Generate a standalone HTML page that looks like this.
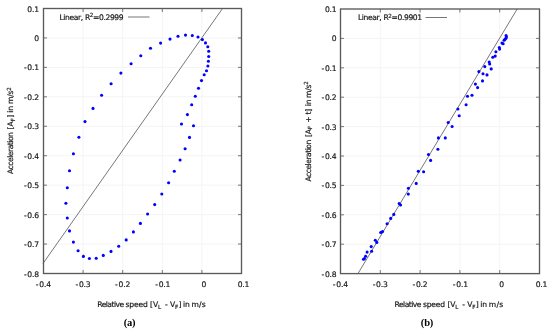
<!DOCTYPE html>
<html><head><meta charset="utf-8"><style>
html,body{margin:0;padding:0;background:#fff;}
svg{display:block;}
text{font-family:"DejaVu Sans","Liberation Sans",sans-serif;font-size:7.6px;fill:#1a1a1a;stroke:#1a1a1a;stroke-width:0.2px;letter-spacing:-0.18px;}
text.cap{font-family:"Liberation Serif",serif;font-weight:bold;font-size:10.5px;fill:#000;stroke:none;}
.grid{stroke:#f4f4f4;stroke-width:1;fill:none;}
.tick{stroke:#777;stroke-width:1;fill:none;}
.reg{stroke:#777;stroke-width:1;}
.frame{fill:none;stroke:#5a5a5a;stroke-width:1.35;}
.pts circle{fill:#0000ff;}
</style></head><body>
<svg width="550" height="332" viewBox="0 0 550 332">
<path d="M83.1 8.5V273.5M122.7 8.5V273.5M162.3 8.5V273.5M201.9 8.5V273.5M43.5 244.06H241.5M43.5 214.61H241.5M43.5 185.17H241.5M43.5 155.72H241.5M43.5 126.28H241.5M43.5 96.83H241.5M43.5 67.39H241.5M43.5 37.94H241.5" class="grid"/>
<path d="M83.1 273.5v-3.5M83.1 8.5v3.5M122.7 273.5v-3.5M122.7 8.5v3.5M162.3 273.5v-3.5M162.3 8.5v3.5M201.9 273.5v-3.5M201.9 8.5v3.5M43.5 244.06h3.5M241.5 244.06h-3.5M43.5 214.61h3.5M241.5 214.61h-3.5M43.5 185.17h3.5M241.5 185.17h-3.5M43.5 155.72h3.5M241.5 155.72h-3.5M43.5 126.28h3.5M241.5 126.28h-3.5M43.5 96.83h3.5M241.5 96.83h-3.5M43.5 67.39h3.5M241.5 67.39h-3.5M43.5 37.94h3.5M241.5 37.94h-3.5" class="tick"/>
<line x1="43" y1="263.5" x2="222.5" y2="8.5" class="reg"/>
<rect x="43.5" y="8.5" width="198.0" height="265.0" class="frame"/>
<g class="pts"><circle cx="101.6" cy="95.3" r="1.55"/><circle cx="111.1" cy="83.7" r="1.55"/><circle cx="120.9" cy="73.1" r="1.55"/><circle cx="131.1" cy="63.7" r="1.55"/><circle cx="140.8" cy="55.7" r="1.55"/><circle cx="150.5" cy="48.3" r="1.55"/><circle cx="160.6" cy="43.1" r="1.55"/><circle cx="170" cy="39.1" r="1.55"/><circle cx="178" cy="36.3" r="1.55"/><circle cx="185.5" cy="35.1" r="1.55"/><circle cx="192.3" cy="35.5" r="1.55"/><circle cx="198" cy="37" r="1.55"/><circle cx="202.4" cy="39.6" r="1.55"/><circle cx="205.5" cy="42.9" r="1.55"/><circle cx="207.8" cy="46.8" r="1.55"/><circle cx="208.7" cy="51.2" r="1.55"/><circle cx="208.7" cy="56.5" r="1.55"/><circle cx="208.4" cy="61.3" r="1.55"/><circle cx="207.9" cy="66" r="1.55"/><circle cx="206.5" cy="70.8" r="1.55"/><circle cx="204.2" cy="74.8" r="1.55"/><circle cx="201.5" cy="80.6" r="1.55"/><circle cx="198.5" cy="88.2" r="1.55"/><circle cx="195.3" cy="96.2" r="1.55"/><circle cx="191.7" cy="104.7" r="1.55"/><circle cx="187.4" cy="114.6" r="1.55"/><circle cx="181.5" cy="124" r="1.55"/><circle cx="193.5" cy="125.8" r="1.55"/><circle cx="189.5" cy="137.4" r="1.55"/><circle cx="185.1" cy="148.8" r="1.55"/><circle cx="180.1" cy="160" r="1.55"/><circle cx="174.3" cy="171.3" r="1.55"/><circle cx="168.6" cy="182.8" r="1.55"/><circle cx="161.8" cy="194" r="1.55"/><circle cx="154.7" cy="204.6" r="1.55"/><circle cx="147.6" cy="214" r="1.55"/><circle cx="140.4" cy="223.4" r="1.55"/><circle cx="133.4" cy="231.9" r="1.55"/><circle cx="126.2" cy="239.9" r="1.55"/><circle cx="118.7" cy="246.2" r="1.55"/><circle cx="111" cy="251.4" r="1.55"/><circle cx="103.3" cy="255.4" r="1.55"/><circle cx="96.2" cy="258.2" r="1.55"/><circle cx="89.4" cy="258.5" r="1.55"/><circle cx="83.4" cy="256.4" r="1.55"/><circle cx="78.1" cy="250.7" r="1.55"/><circle cx="73.4" cy="242.1" r="1.55"/><circle cx="69.5" cy="230.9" r="1.55"/><circle cx="67.3" cy="218" r="1.55"/><circle cx="65.9" cy="203.3" r="1.55"/><circle cx="67.3" cy="187.8" r="1.55"/><circle cx="69.5" cy="170.8" r="1.55"/><circle cx="73.4" cy="153.8" r="1.55"/><circle cx="78.9" cy="137.3" r="1.55"/><circle cx="85" cy="121.6" r="1.55"/><circle cx="93" cy="108.4" r="1.55"/></g>
<text x="38.9" y="276.5" text-anchor="end"><tspan style="letter-spacing:0.7px">-</tspan>0.8</text>
<text x="38.9" y="247.06" text-anchor="end"><tspan style="letter-spacing:0.7px">-</tspan>0.7</text>
<text x="38.9" y="217.61" text-anchor="end"><tspan style="letter-spacing:0.7px">-</tspan>0.6</text>
<text x="38.9" y="188.17" text-anchor="end"><tspan style="letter-spacing:0.7px">-</tspan>0.5</text>
<text x="38.9" y="158.72" text-anchor="end"><tspan style="letter-spacing:0.7px">-</tspan>0.4</text>
<text x="38.9" y="129.28" text-anchor="end"><tspan style="letter-spacing:0.7px">-</tspan>0.3</text>
<text x="38.9" y="99.83" text-anchor="end"><tspan style="letter-spacing:0.7px">-</tspan>0.2</text>
<text x="38.9" y="70.39" text-anchor="end"><tspan style="letter-spacing:0.7px">-</tspan>0.1</text>
<text x="38.9" y="40.94" text-anchor="end">0</text>
<text x="38.9" y="11.5" text-anchor="end">0.1</text>
<text x="43.35" y="286.9" text-anchor="middle"><tspan style="letter-spacing:0.7px">-</tspan>0.4</text>
<text x="82.95" y="286.9" text-anchor="middle"><tspan style="letter-spacing:0.7px">-</tspan>0.3</text>
<text x="122.55" y="286.9" text-anchor="middle"><tspan style="letter-spacing:0.7px">-</tspan>0.2</text>
<text x="162.75" y="286.9" text-anchor="middle"><tspan style="letter-spacing:0.7px">-</tspan>0.1</text>
<text x="203.9" y="286.9" text-anchor="middle">0</text>
<text x="243.5" y="286.9" text-anchor="middle">0.1</text>
<text x="59.5" y="19.7" style="letter-spacing:-0.38px">Linear, R<tspan font-size="5.6" dy="-2.4">2</tspan><tspan dy="2.4">=0.2999</tspan></text>
<line x1="128" y1="17" x2="149.5" y2="17" class="reg"/>
<text transform="translate(13 0) rotate(-90)"><tspan x="-174" style="letter-spacing:-0.48px">Acceleration </tspan><tspan x="-129.4">[A</tspan><tspan font-size="5.6" dy="1.5">F</tspan><tspan dy="-1.5" x="-117.8">] </tspan><tspan x="-112.8">in </tspan><tspan x="-104">m/s</tspan><tspan font-size="5.6" dy="-2.4">2</tspan></text>
<text x="97.3" y="307"><tspan style="letter-spacing:-0.55px">Relative </tspan><tspan x="125.6">speed </tspan><tspan x="150.1">[V</tspan><tspan font-size="5.6" dy="1.5">L</tspan><tspan dy="-1.5" x="164.9">- </tspan><tspan x="169.9">V</tspan><tspan font-size="5.6" dy="1.5">F</tspan><tspan dy="-1.5" x="178.5">] </tspan><tspan x="183">in </tspan><tspan x="191.5" style="letter-spacing:0.2px">m/s</tspan></text>
<text x="129.5" y="326" class="cap" text-anchor="middle">(a)</text>
<path d="M380.3 9V273.6M420.1 9V273.6M459.9 9V273.6M499.7 9V273.6M340.5 244.2H539.5M340.5 214.8H539.5M340.5 185.4H539.5M340.5 156H539.5M340.5 126.6H539.5M340.5 97.2H539.5M340.5 67.8H539.5M340.5 38.4H539.5" class="grid"/>
<path d="M380.3 273.6v-3.5M380.3 9v3.5M420.1 273.6v-3.5M420.1 9v3.5M459.9 273.6v-3.5M459.9 9v3.5M499.7 273.6v-3.5M499.7 9v3.5M340.5 244.2h3.5M539.5 244.2h-3.5M340.5 214.8h3.5M539.5 214.8h-3.5M340.5 185.4h3.5M539.5 185.4h-3.5M340.5 156h3.5M539.5 156h-3.5M340.5 126.6h3.5M539.5 126.6h-3.5M340.5 97.2h3.5M539.5 97.2h-3.5M340.5 67.8h3.5M539.5 67.8h-3.5M340.5 38.4h3.5M539.5 38.4h-3.5" class="tick"/>
<line x1="358" y1="273.5" x2="517.2" y2="9" class="reg"/>
<rect x="340.5" y="9" width="199.0" height="264.6" class="frame"/>
<g class="pts"><circle cx="506.1" cy="35.5" r="1.55"/><circle cx="506.4" cy="37" r="1.55"/><circle cx="505.9" cy="38.2" r="1.55"/><circle cx="505" cy="39.3" r="1.55"/><circle cx="504.1" cy="40.2" r="1.55"/><circle cx="502.0" cy="43.0" r="1.55"/><circle cx="503.1" cy="43.8" r="1.55"/><circle cx="499.3" cy="47.5" r="1.55"/><circle cx="499.6" cy="49.1" r="1.55"/><circle cx="495.9" cy="51.8" r="1.55"/><circle cx="495.2" cy="56.1" r="1.55"/><circle cx="492.8" cy="57.3" r="1.55"/><circle cx="489.2" cy="62.1" r="1.55"/><circle cx="489.7" cy="64" r="1.55"/><circle cx="484.8" cy="66.6" r="1.55"/><circle cx="491.2" cy="68.9" r="1.55"/><circle cx="478.9" cy="71.6" r="1.55"/><circle cx="483" cy="73.8" r="1.55"/><circle cx="487" cy="74.9" r="1.55"/><circle cx="482.5" cy="80.9" r="1.55"/><circle cx="475.4" cy="84.1" r="1.55"/><circle cx="477.6" cy="87.6" r="1.55"/><circle cx="467.5" cy="96.2" r="1.55"/><circle cx="472" cy="95.3" r="1.55"/><circle cx="466.1" cy="104.8" r="1.55"/><circle cx="457.9" cy="109" r="1.55"/><circle cx="459.2" cy="115.7" r="1.55"/><circle cx="448.2" cy="122.5" r="1.55"/><circle cx="452.1" cy="126.5" r="1.55"/><circle cx="438.4" cy="137.9" r="1.55"/><circle cx="445.3" cy="137.9" r="1.55"/><circle cx="437.9" cy="149.2" r="1.55"/><circle cx="428.5" cy="154.5" r="1.55"/><circle cx="430.6" cy="160.4" r="1.55"/><circle cx="418.3" cy="171.3" r="1.55"/><circle cx="423.6" cy="171.8" r="1.55"/><circle cx="416.2" cy="183.4" r="1.55"/><circle cx="408.4" cy="188.3" r="1.55"/><circle cx="408.3" cy="194.1" r="1.55"/><circle cx="399.2" cy="203.6" r="1.55"/><circle cx="400.6" cy="205" r="1.55"/><circle cx="393.8" cy="214.4" r="1.55"/><circle cx="390.7" cy="218.4" r="1.55"/><circle cx="387.1" cy="223.8" r="1.55"/><circle cx="380.7" cy="232.5" r="1.55"/><circle cx="382.5" cy="231.6" r="1.55"/><circle cx="375.3" cy="240.3" r="1.55"/><circle cx="376.8" cy="242.4" r="1.55"/><circle cx="371.2" cy="246.6" r="1.55"/><circle cx="367.1" cy="252.1" r="1.55"/><circle cx="371.6" cy="251.3" r="1.55"/><circle cx="365.6" cy="256.2" r="1.55"/><circle cx="364.4" cy="258.6" r="1.55"/><circle cx="363.5" cy="259.3" r="1.55"/></g>
<text x="336.5" y="276.6" text-anchor="end"><tspan style="letter-spacing:0.7px">-</tspan>0.8</text>
<text x="336.5" y="247.2" text-anchor="end"><tspan style="letter-spacing:0.7px">-</tspan>0.7</text>
<text x="336.5" y="217.8" text-anchor="end"><tspan style="letter-spacing:0.7px">-</tspan>0.6</text>
<text x="336.5" y="188.4" text-anchor="end"><tspan style="letter-spacing:0.7px">-</tspan>0.5</text>
<text x="336.5" y="159" text-anchor="end"><tspan style="letter-spacing:0.7px">-</tspan>0.4</text>
<text x="336.5" y="129.6" text-anchor="end"><tspan style="letter-spacing:0.7px">-</tspan>0.3</text>
<text x="336.5" y="100.2" text-anchor="end"><tspan style="letter-spacing:0.7px">-</tspan>0.2</text>
<text x="336.5" y="70.8" text-anchor="end"><tspan style="letter-spacing:0.7px">-</tspan>0.1</text>
<text x="336.5" y="41.4" text-anchor="end">0</text>
<text x="336.5" y="12" text-anchor="end">0.1</text>
<text x="340.35" y="287" text-anchor="middle"><tspan style="letter-spacing:0.7px">-</tspan>0.4</text>
<text x="380.15" y="287" text-anchor="middle"><tspan style="letter-spacing:0.7px">-</tspan>0.3</text>
<text x="419.95" y="287" text-anchor="middle"><tspan style="letter-spacing:0.7px">-</tspan>0.2</text>
<text x="460.35" y="287" text-anchor="middle"><tspan style="letter-spacing:0.7px">-</tspan>0.1</text>
<text x="501.7" y="287" text-anchor="middle">0</text>
<text x="541.5" y="287" text-anchor="middle">0.1</text>
<text x="358" y="20.2" style="letter-spacing:-0.38px">Linear, R<tspan font-size="5.6" dy="-2.4">2</tspan><tspan dy="2.4">=0.9901</tspan></text>
<line x1="425.5" y1="17.5" x2="447" y2="17.5" class="reg"/>
<text transform="translate(310.5 0) rotate(-90)"><tspan x="-181.6" style="letter-spacing:-0.48px">Acceleration </tspan><tspan x="-137">[A</tspan><tspan font-size="5.6" dy="1.5">F</tspan><tspan dy="-1.5" x="-122.8">+ </tspan><tspan x="-114.5">t] </tspan><tspan x="-106.3">in </tspan><tspan x="-98">m/s</tspan><tspan font-size="5.6" dy="-2.4">2</tspan></text>
<text x="394.6" y="307.3"><tspan style="letter-spacing:-0.55px">Relative </tspan><tspan x="422.9">speed </tspan><tspan x="447.4">[V</tspan><tspan font-size="5.6" dy="1.5">L</tspan><tspan dy="-1.5" x="462.2">- </tspan><tspan x="467.2">V</tspan><tspan font-size="5.6" dy="1.5">F</tspan><tspan dy="-1.5" x="475.8">] </tspan><tspan x="480.3">in </tspan><tspan x="488.8" style="letter-spacing:0.2px">m/s</tspan></text>
<text x="427" y="326" class="cap" text-anchor="middle">(b)</text>
</svg>
</body></html>
